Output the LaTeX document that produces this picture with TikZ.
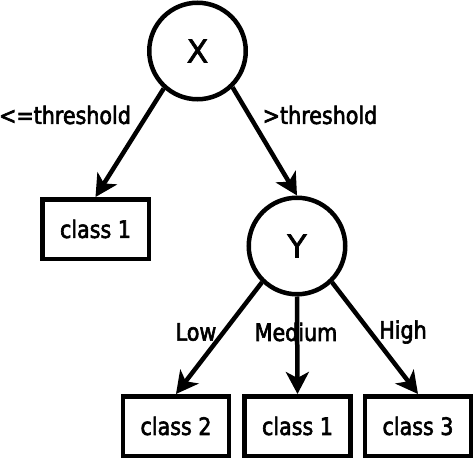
\documentclass[tikz,border=0pt]{standalone}
\usepackage{fontspec}
\setmainfont{DejaVu Sans}
\newfontfamily\lblfont[FakeStretch=0.86,FakeBold=2.5]{DejaVu Sans}
\newfontfamily\varfont[FakeBold=2]{DejaVu Sans}
\usetikzlibrary{arrows.meta}
\begin{document}
\begin{tikzpicture}[x=1pt,y=-1pt,
  every node/.style={font=\lblfont\fontsize{24}{28}\selectfont, inner sep=0pt},
  decision/.style={circle, draw, line width=4.5pt, minimum size=96.5pt, font=\varfont\fontsize{31.5}{36}\selectfont},
  leaf/.style={rectangle, draw, line width=4.5pt, minimum width=106pt, minimum height=59.5pt},
  arr/.style={line width=4.5pt, -{Stealth[length=22pt, width=23pt, inset=6pt]}},
  lbl/.style={anchor=center}
]
\useasboundingbox (0,0) rectangle (474,460);
\node[decision] (X) at (197.5,51) {X};
\node[decision] (Y) at (297,246) {Y};
\node[leaf, minimum width=106.5pt] (c1) at (95.5,229) {class 1};
\node[leaf] (c2) at (176,426) {class 2};
\node[leaf] (c1b) at (297.5,426) {class 1};
\node[leaf] (c3) at (418,426) {class 3};
\node[lbl] (l1) at (65,115) {<=threshold};
\node[lbl] (l2) at (320,115) {>threshold};
\node[lbl] (l3) at (196,332) {Low};
\node[lbl] (l4) at (296,332) {Medium};
\node[lbl] (l5) at (403,332) {High};
\draw[arr] (X.228) -- (c1.north);
\draw[arr] (X.314) -- (Y.north);
\draw[arr] (Y.226) -- (c2.north);
\draw[arr] (Y.south) -- (c1b.north);
\draw[arr] (Y.314) -- (c3.north);
\end{tikzpicture}
\end{document}
